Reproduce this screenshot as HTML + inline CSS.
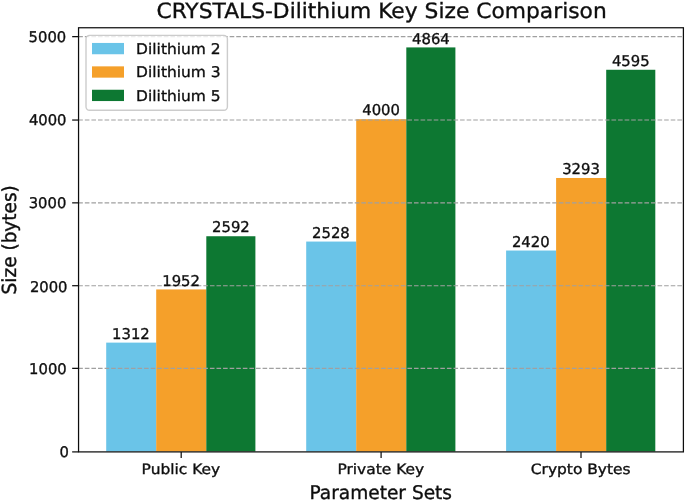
<!DOCTYPE html>
<html lang="en"><head><meta charset="utf-8"><title>CRYSTALS-Dilithium Key Size Comparison</title>
<style>html,body{margin:0;padding:0;background:#fff}body{width:685px;height:501px;overflow:hidden}</style></head>
<body>
<svg width="685" height="501" viewBox="0 0 685 501" style="display:block" text-rendering="geometricPrecision" font-family="'DejaVu Sans', 'Liberation Sans', sans-serif" fill="#101010" stroke="#101010" stroke-width="0.35">
<defs><filter id="soft" x="0" y="0" width="685" height="501" filterUnits="userSpaceOnUse"><feGaussianBlur stdDeviation="0.4"/></filter></defs>
<rect width="685" height="501" fill="#fff" stroke="none"/>
<g filter="url(#soft)">
<rect x="-5" y="-5" width="695" height="511" fill="#fff" stroke="none"/>
<rect x="106.20" y="342.62" width="50.15" height="108.88" fill="#6bc4e8" stroke="none"/>
<rect x="156.20" y="289.43" width="50.20" height="162.07" fill="#f5a02a" stroke="none"/>
<rect x="206.30" y="236.24" width="49.10" height="215.26" fill="#0f7833" stroke="none"/>
<rect x="306.20" y="241.56" width="50.15" height="209.94" fill="#6bc4e8" stroke="none"/>
<rect x="356.20" y="119.22" width="50.20" height="332.28" fill="#f5a02a" stroke="none"/>
<rect x="406.30" y="47.41" width="49.10" height="404.09" fill="#0f7833" stroke="none"/>
<rect x="506.10" y="250.53" width="50.15" height="200.97" fill="#6bc4e8" stroke="none"/>
<rect x="556.10" y="177.98" width="50.20" height="273.52" fill="#f5a02a" stroke="none"/>
<rect x="606.20" y="69.77" width="49.10" height="381.73" fill="#0f7833" stroke="none"/>
<line x1="78.55" x2="683.4" y1="368.35" y2="368.35" stroke="#a0a0a0" stroke-opacity="1" stroke-width="1.1" stroke-dasharray="4.6 1.983" stroke-dashoffset="0.3"/>
<line x1="78.55" x2="683.4" y1="285.70" y2="285.70" stroke="#a0a0a0" stroke-opacity="1" stroke-width="1.1" stroke-dasharray="4.6 1.983" stroke-dashoffset="0.3"/>
<line x1="78.55" x2="683.4" y1="202.85" y2="202.85" stroke="#a0a0a0" stroke-opacity="1" stroke-width="1.1" stroke-dasharray="4.6 1.983" stroke-dashoffset="0.3"/>
<line x1="78.55" x2="683.4" y1="120.05" y2="120.05" stroke="#a0a0a0" stroke-opacity="1" stroke-width="1.1" stroke-dasharray="4.6 1.983" stroke-dashoffset="0.3"/>
<line x1="78.55" x2="683.4" y1="36.65" y2="36.65" stroke="#a0a0a0" stroke-opacity="1" stroke-width="1.1" stroke-dasharray="4.6 1.983" stroke-dashoffset="0.3"/>
<rect x="78.55" y="27.75" width="604.85" height="424.15" fill="none" stroke="#101010" stroke-width="1.25"/>
<line x1="72.15" x2="78.55" y1="451.90" y2="451.90" stroke="#101010" stroke-width="1.25"/>
<text transform="translate(68.90,456.70) scale(1.005,1)" font-size="14.7" text-anchor="end">0</text>
<line x1="72.15" x2="78.55" y1="368.35" y2="368.35" stroke="#101010" stroke-width="1.25"/>
<text transform="translate(66.70,374.10) scale(1.005,1)" font-size="14.7" text-anchor="end">1000</text>
<line x1="72.15" x2="78.55" y1="285.70" y2="285.70" stroke="#101010" stroke-width="1.25"/>
<text transform="translate(67.50,291.60) scale(1.005,1)" font-size="14.7" text-anchor="end">2000</text>
<line x1="72.15" x2="78.55" y1="202.85" y2="202.85" stroke="#101010" stroke-width="1.25"/>
<text transform="translate(66.30,207.60) scale(1.005,1)" font-size="14.7" text-anchor="end">3000</text>
<line x1="72.15" x2="78.55" y1="120.05" y2="120.05" stroke="#101010" stroke-width="1.25"/>
<text transform="translate(66.50,124.90) scale(1.005,1)" font-size="14.7" text-anchor="end">4000</text>
<line x1="72.15" x2="78.55" y1="36.65" y2="36.65" stroke="#101010" stroke-width="1.25"/>
<text transform="translate(66.20,42.40) scale(1.005,1)" font-size="14.7" text-anchor="end">5000</text>
<line x1="181.2" x2="181.2" y1="451.9" y2="457.9" stroke="#101010" stroke-width="1.25"/>
<text transform="translate(180.90,473.50) scale(1.08,1)" font-size="14.3" text-anchor="middle">Public Key</text>
<line x1="381.1" x2="381.1" y1="451.9" y2="457.9" stroke="#101010" stroke-width="1.25"/>
<text transform="translate(380.80,473.50) scale(1.08,1)" font-size="14.3" text-anchor="middle">Private Key</text>
<line x1="581.0" x2="581.0" y1="451.9" y2="457.9" stroke="#101010" stroke-width="1.25"/>
<text transform="translate(580.70,473.50) scale(1.08,1)" font-size="14.3" text-anchor="middle">Crypto Bytes</text>
<text transform="translate(130.90,338.72) scale(0.995,1)" font-size="14.9" text-anchor="middle">1312</text>
<text transform="translate(181.10,285.53) scale(0.995,1)" font-size="14.9" text-anchor="middle">1952</text>
<text transform="translate(230.90,232.34) scale(0.995,1)" font-size="14.9" text-anchor="middle">2592</text>
<text transform="translate(330.90,237.66) scale(0.995,1)" font-size="14.9" text-anchor="middle">2528</text>
<text transform="translate(381.10,115.32) scale(0.995,1)" font-size="14.9" text-anchor="middle">4000</text>
<text transform="translate(430.90,43.51) scale(0.995,1)" font-size="14.9" text-anchor="middle">4864</text>
<text transform="translate(530.80,246.63) scale(0.995,1)" font-size="14.9" text-anchor="middle">2420</text>
<text transform="translate(581.00,174.08) scale(0.995,1)" font-size="14.9" text-anchor="middle">3293</text>
<text transform="translate(630.80,65.87) scale(0.995,1)" font-size="14.9" text-anchor="middle">4595</text>
<text transform="translate(381.55,18.20) scale(1.0375,1)" font-size="21.0" text-anchor="middle">CRYSTALS-Dilithium Key Size Comparison</text>
<text transform="translate(380.75,498.80) scale(0.988,1)" font-size="18.8" text-anchor="middle">Parameter Sets</text>
<text transform="translate(16.4,239.82) scale(1.05,1) rotate(-90)" font-size="18.5" text-anchor="middle">Size (bytes)</text>
<rect x="86.0" y="35.4" width="141.4" height="74.8" rx="3.5" fill="#fff" fill-opacity="0.8" stroke="#c6c6c6" stroke-opacity="0.9" stroke-width="1.4"/>
<rect x="92" y="42.95" width="32" height="11.3" fill="#6bc4e8" stroke="none"/>
<text transform="translate(136.10,54.05) scale(1.052,1)" font-size="14.7" text-anchor="start">Dilithium 2</text>
<rect x="92" y="66.35" width="32" height="11.3" fill="#f5a02a" stroke="none"/>
<text transform="translate(136.10,77.45) scale(1.052,1)" font-size="14.7" text-anchor="start">Dilithium 3</text>
<rect x="92" y="89.75" width="32" height="11.3" fill="#0f7833" stroke="none"/>
<text transform="translate(136.10,100.85) scale(1.052,1)" font-size="14.7" text-anchor="start">Dilithium 5</text>
</g>
</svg>
</body></html>
